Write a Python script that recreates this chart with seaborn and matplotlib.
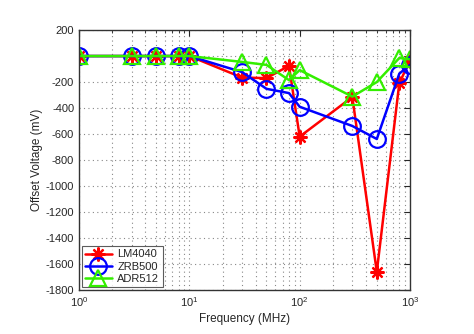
import numpy as np
import pandas as pd
import matplotlib
matplotlib.use("Agg")
import matplotlib.pyplot as plt
import seaborn as sns
from matplotlib.ticker import LogLocator, NullFormatter, FixedLocator, FixedFormatter

freq = [1, 3, 5, 8, 10, 30, 50, 80, 100, 300, 500, 800, 1000]
lm4040 = [0, 0, 0, 0, 0, -165, -170, -75, -620, -315, -1660, -208, -35]
zrb500 = [0, 0, 0, 0, 0, -123, -252, -285, -390, -538, -638, -135, -68]
adr512 = [0, 0, 0, 0, 0, -45, -68, -185, -108, -312, -200, -15, -25]
series_names = ["LM4040", "ZRB500", "ADR512"]
yticks = [200, 0, -200, -400, -600, -800, -1000, -1200, -1400, -1600, -1800]
ytick_labels = ["200", "", "-200", "-400", "-600", "-800", "-1000", "-1200", "-1400", "-1600", "-1800"]

sns.set_style("white")
plt.rcParams["font.family"] = ["Liberation Sans", "DejaVu Sans"]

df = pd.DataFrame({
    "freq": freq * 3,
    "val": lm4040 + zrb500 + adr512,
    "name": sum([[n] * len(freq) for n in series_names], []),
})

fig = plt.figure(figsize=(4.74, 3.34), dpi=100)
ax = fig.add_axes([0.1667, 0.1317, 0.6983, 0.7783])

colors = ["#ff0000", "#0000ff", "#33ee00"]
markers = [(8, 2, 0), "o", "^"]
msizes = [10, 12, 12]
for name, c, m, ms in zip(series_names, colors, markers, msizes):
    sub = df[df["name"] == name]
    sns.lineplot(data=sub, x="freq", y="val", ax=ax, color=c, lw=1.8,
                 marker=m, markersize=ms, markerfacecolor="none",
                 markeredgecolor=c, markeredgewidth=1.6, label=name,
                 estimator=None, sort=False)

ax.set_xscale("log")
ax.set_xlim(1, 1000)
ax.set_ylim(-1800, 200)
ax.yaxis.set_major_locator(FixedLocator(yticks))
ax.yaxis.set_major_formatter(FixedFormatter(ytick_labels))
ax.xaxis.set_major_locator(LogLocator(base=10))
ax.xaxis.set_minor_locator(LogLocator(base=10, subs=np.arange(2, 10)))
ax.xaxis.set_minor_formatter(NullFormatter())
ax.grid(True, which="major", axis="both", color="#888888", ls=(0, (1, 3)), lw=0.8)
ax.grid(True, which="minor", axis="x", color="#888888", ls=(0, (1, 3)), lw=0.8)
ax.tick_params(which="both", direction="in", labelsize=8, length=4, top=True, right=True)
ax.tick_params(which="minor", length=2)
for s in ax.spines.values():
    s.set_color("#333333")
    s.set_linewidth(1.0)
ax.set_xlabel("Frequency (MHz)", fontsize=8.5, labelpad=3)
ax.set_ylabel("Offset Voltage (mV)", fontsize=8.5, labelpad=2)

leg = ax.legend(loc="lower left", fontsize=8, frameon=True, fancybox=False,
                edgecolor="#333333", borderaxespad=0.25, handlelength=2.4,
                labelspacing=0.2, borderpad=0.3, handletextpad=0.5)
leg.get_frame().set_linewidth(0.8)

fig.savefig("out.png", dpi=100, facecolor="white")
